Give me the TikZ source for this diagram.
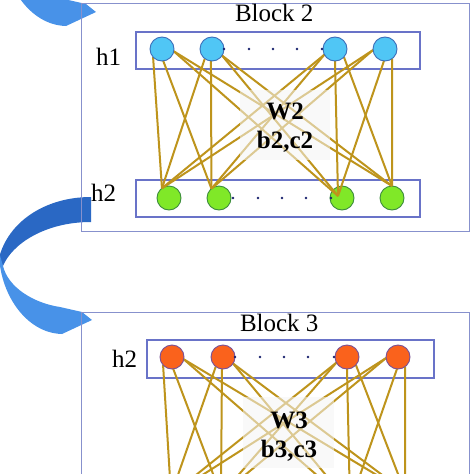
\documentclass[tikz,border=0pt]{standalone}
\usepackage{fontspec}
\setmainfont{Liberation Serif}
\definecolor{visfill}{RGB}{80,198,245}
\definecolor{visdraw}{RGB}{60,110,185}
\definecolor{hidfill}{RGB}{128,232,40}
\definecolor{hiddraw}{RGB}{60,140,60}
\definecolor{orafill}{RGB}{250,98,28}
\definecolor{oradraw}{RGB}{120,80,150}
\definecolor{wirec}{RGB}{190,148,28}
\definecolor{boxc}{RGB}{105,115,200}
\definecolor{blockc}{RGB}{135,145,205}
\definecolor{dotc}{RGB}{25,35,110}
\definecolor{veilc}{RGB}{245,245,245}
\definecolor{arrdark}{RGB}{42,104,196}
\definecolor{arrlight}{RGB}{72,146,232}
\pgfdeclarelayer{back}
\pgfdeclarelayer{mid}
\pgfsetlayers{back,mid,main}
\begin{document}
\begin{tikzpicture}[x=1pt,y=-1pt,
  every node/.style={inner sep=0pt, outer sep=0pt},
  neuron/.style={circle, minimum size=24pt, line width=0.9pt},
  visn/.style={neuron, fill=visfill, draw=visdraw},
  hidn/.style={neuron, fill=hidfill, draw=hiddraw},
  oran/.style={neuron, fill=orafill, draw=oradraw},
  wire/.style={draw=wirec, line width=2pt},
  layerbox/.style={draw=boxc, line width=1.2pt},
  blockbox/.style={draw=blockc, line width=1pt},
  lbl/.style={font=\fontsize{25}{30}\selectfont, anchor=base west},
  wlbl/.style={font=\fontsize{25}{30}\selectfont\bfseries, anchor=base},
  dotm/.style={circle, fill=dotc, minimum size=2.6pt},
  veil/.style={fill=veilc, fill opacity=0.55},
  darkpart/.style={fill=arrdark},
  lightpart/.style={fill=arrlight}
]
\useasboundingbox (0,0) rectangle (474,474);

\begin{pgfonlayer}{back}
\fill[white] (0,0) rectangle (474,474);
% curved arrows
\foreach \dx/\dy in {0/0, 4/-308}{
  \begin{scope}[shift={(\dx,\dy)}]
    \path[darkpart] (91,197) .. controls (45,197) and (8,222) .. (-1,258) -- (3,266)
      .. controls (12,244) and (45,222) .. (91,222) -- cycle;
    \path[lightpart] (-1,252) .. controls (-1,292) and (25,333) .. (62,334) -- (92,320)
      -- (82,312) -- (60,307) .. controls (33,303) and (8,287) .. (3,266) -- cycle;
  \end{scope}
}
% block frames
\draw[blockbox] (81,3) rectangle (469,231);
\draw[blockbox] (81,312) rectangle (469,490);
% layer frames
\draw[layerbox] (136,32) rectangle (420,69);
\draw[layerbox] (136,180) rectangle (420,217);
\draw[layerbox] (147,340) rectangle (434,378);
% lower units of block 2
\node[hidn] (b1) at (169,198) {};
\node[hidn] (b2) at (219,198) {};
\node[hidn] (b3) at (342,198) {};
\node[hidn] (b4) at (392,198) {};
\end{pgfonlayer}

% upper units
\node[visn] (a1) at (162,49) {};
\node[visn] (a2) at (212,49) {};
\node[visn] (a3) at (335,49) {};
\node[visn] (a4) at (385,49) {};
\node[oran] (c1) at (172,357) {};
\node[oran] (c2) at (223,357) {};
\node[oran] (c3) at (347,357) {};
\node[oran] (c4) at (398,357) {};
\coordinate (b3x) at (338,196);
\coordinate (d1) at (171,495);
\coordinate (d2) at (221,495);
\coordinate (d3) at (350,504);
\coordinate (d4) at (405,492);

\begin{pgfonlayer}{mid}
% block 2 connections
\draw[wire] (a1.222) -- (b1.126);
\draw[wire] (a1.276) -- (b2.129);
\draw[wire] (a1.349) -- (b3x);
\draw[wire] (a1.349) -- (b4.north);
\draw[wire] (a2.233) -- (b1.126);
\draw[wire] (a2.265) -- (b2.129);
\draw[wire] (a2.327) -- (b3x);
\draw[wire] (a2.327) -- (b4.north);
\draw[wire] (a3.208) -- (b1.126);
\draw[wire] (a3.208) -- (b2.129);
\draw[wire] (a3.270) -- (b3x);
\draw[wire] (a3.318) -- (b4.north);
\draw[wire] (a4.185) -- (b1.126);
\draw[wire] (a4.185) -- (b2.129);
\draw[wire] (a4.265) -- (b3x);
\draw[wire] (a4.306) -- (b4.north);
% block 3 connections
\draw[wire] (c1.222) -- (d1);
\draw[wire] (c1.276) -- (d2);
\draw[wire] (c1.349) -- (d3);
\draw[wire] (c1.349) -- (d4);
\draw[wire] (c2.233) -- (d1);
\draw[wire] (c2.265) -- (d2);
\draw[wire] (c2.327) -- (d3);
\draw[wire] (c2.327) -- (d4);
\draw[wire] (c3.208) -- (d1);
\draw[wire] (c3.208) -- (d2);
\draw[wire] (c3.270) -- (d3);
\draw[wire] (c3.318) -- (d4);
\draw[wire] (c4.185) -- (d1);
\draw[wire] (c4.185) -- (d2);
\draw[wire] (c4.265) -- (d3);
\draw[wire] (c4.306) -- (d4);
% veils behind parameter labels
\path[veil] (240,90) rectangle (330,160);
\path[veil] (243,397) rectangle (334,468);
\end{pgfonlayer}

% dots
\foreach \x [count=\i] in {224,249,273,297,322}{\node[dotm] (ta\i) at (\x,49) {};}
\foreach \x [count=\i] in {233,258,282,306,331}{\node[dotm] (tb\i) at (\x,198) {};}
\foreach \x [count=\i] in {235,260,284,308,334}{\node[dotm] (tc\i) at (\x,357) {};}

% labels
\node[lbl] (blk2) at (235,21) {Block 2};
\node[lbl] (blk3) at (240,331) {Block 3};
\node[lbl] (lh1) at (96,65) {h1};
\node[lbl] (lh2) at (91,201) {h2};
\node[lbl] (lh2b) at (112,367) {h2};
\node[wlbl] (w2) at (285,119) {W2};
\node[wlbl] (bc2) at (285,148) {b2,c2};
\node[wlbl] (w3) at (289,428) {W3};
\node[wlbl] (bc3) at (289,457) {b3,c3};
\end{tikzpicture}
\end{document}
